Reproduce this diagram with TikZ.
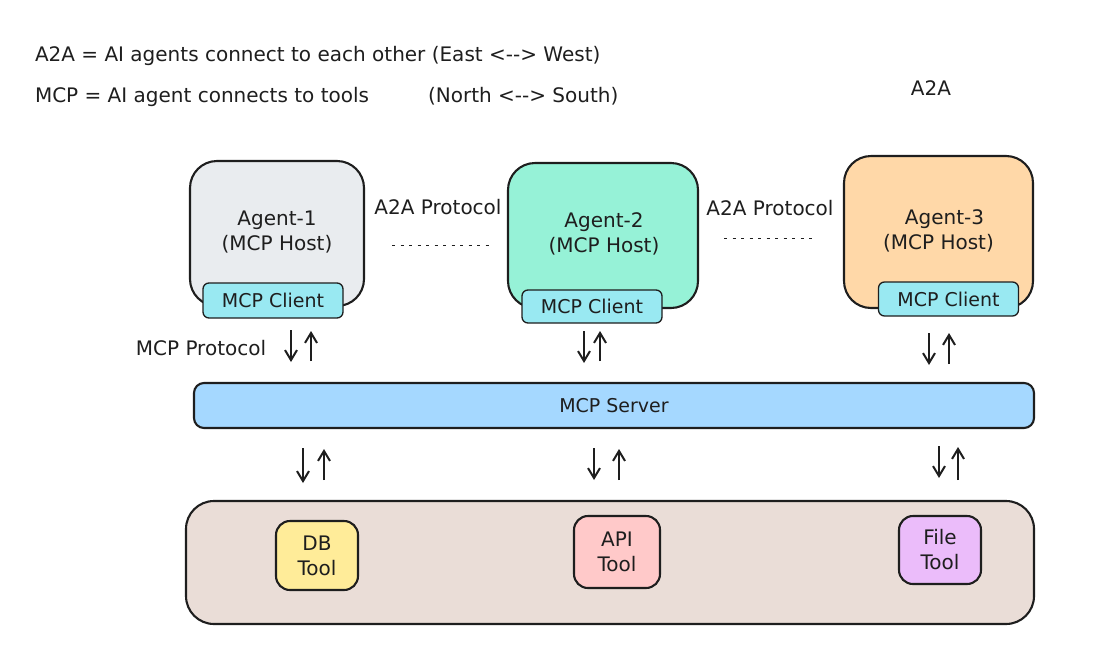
\documentclass[tikz,border=0pt]{standalone}
\usepackage{fontspec}
\setmainfont{DejaVu Sans}
\usetikzlibrary{arrows.meta}
\definecolor{ink}{HTML}{1E1E1E}
\definecolor{agentgray}{HTML}{E9ECEF}
\definecolor{agentgreen}{HTML}{96F2D7}
\definecolor{agentorange}{HTML}{FFD8A8}
\definecolor{clientcyan}{HTML}{99E9F2}
\definecolor{serverblue}{HTML}{A5D8FF}
\definecolor{panelbrown}{HTML}{EADDD7}
\definecolor{toolyellow}{HTML}{FFEC99}
\definecolor{toolpink}{HTML}{FFC9C9}
\definecolor{toolpurple}{HTML}{EBBCFA}
\newcommand{\labelfont}{\fontsize{20}{25}\selectfont}
\newcommand{\boxfont}{\fontsize{19}{25}\selectfont}
\tikzset{
  box/.style={draw=ink,line width=2.1pt,inner sep=0pt,outer sep=0pt},
  agentbox/.style={box,rounded corners=27pt},
  clientbox/.style={box,line width=1.3pt,rounded corners=6pt,fill=clientcyan,minimum width=140pt,minimum height=35pt,text=ink,font=\boxfont},
  toolbox/.style={box,rounded corners=14pt,align=center,text=ink,font=\labelfont},
  lbl/.style={text=ink,inner sep=0pt,outer sep=0pt,align=center,font=\labelfont},
  flow/.style={draw=ink,line width=2.1pt,-{Straight Barb[length=10pt,width=12pt,line width=2pt]}},
  dotline/.style={draw=ink,line width=1pt,dash pattern=on 3pt off 5.5pt},
}
\begin{document}
\begin{tikzpicture}[x=1pt,y=-1pt]
\useasboundingbox (0,0) rectangle (1097,667);
% notes
\node[lbl,anchor=west] (note1) at (35,56) {A2A = AI agents connect to each other (East <-{}-> West)};
\node[lbl,anchor=west] (note2) at (35,97) {MCP = AI agent connects to tools\hspace{59pt}(North <-{}-> South)};
\node[lbl] (title) at (931,88) {A2A};
% agents
\node[agentbox,fill=agentgray,minimum width=174pt,minimum height=145pt] (agent1) at (277,233.5) {};
\node[agentbox,fill=agentgreen,minimum width=190pt,minimum height=145pt] (agent2) at (603,235.5) {};
\node[agentbox,fill=agentorange,minimum width=189pt,minimum height=152pt] (agent3) at (938.5,232) {};
\node[lbl] (agent1label) at (277,232) {Agent-1\\(MCP Host)};
\node[lbl] (agent2label) at (604,234) {Agent-2\\(MCP Host)};
\node[lbl] (agent3label) at (938.5,231) {\hspace*{12pt}Agent-3\\(MCP Host)};
% clients
\node[clientbox] (client1) at (273,300.5) {MCP Client};
\node[clientbox,minimum height=33pt] (client2) at (592,306.5) {MCP Client};
\node[clientbox,minimum height=34pt] (client3) at (948.5,299) {MCP Client};
% server and tool panel
\node[box,rounded corners=10pt,fill=serverblue,minimum width=840pt,minimum height=45pt,text=ink,font=\boxfont] (server) at (614,405.5) {MCP Server};
\node[box,rounded corners=28pt,fill=panelbrown,minimum width=848pt,minimum height=123pt] (panel) at (610,562.5) {};
\node[toolbox,fill=toolyellow,minimum width=82pt,minimum height=69pt] (db) at (317,555.5) {DB\\Tool};
\node[toolbox,fill=toolpink,minimum width=86pt,minimum height=72pt] (api) at (617,552) {API\\Tool};
\node[toolbox,fill=toolpurple,minimum width=82pt,minimum height=68pt] (file) at (940,550) {File\\Tool};
% edge labels
\node[lbl] (proto1) at (438,207) {A2A Protocol};
\node[lbl] (proto2) at (770,208) {A2A Protocol};
\node[lbl] (proto3) at (201,348) {MCP Protocol};
% dotted links
\coordinate (d1a) at (392,245); \coordinate (d1b) at (490,245);
\coordinate (d2a) at (724,238); \coordinate (d2b) at (812,238);
\draw[dotline] (d1a) -- (d1b);
\draw[dotline] (d2a) -- (d2b);
% arrows client <-> server
\coordinate (a1) at (291,330); \coordinate (a2) at (291,362);
\coordinate (a3) at (311,361); \coordinate (a4) at (311,331);
\coordinate (a5) at (584,331); \coordinate (a6) at (584,363);
\coordinate (a7) at (600,361); \coordinate (a8) at (600,331);
\coordinate (a9) at (929,333); \coordinate (a10) at (929,365);
\coordinate (a11) at (949,364); \coordinate (a12) at (949,333);
\draw[flow] (a1) -- (a2); \draw[flow] (a3) -- (a4);
\draw[flow] (a5) -- (a6); \draw[flow] (a7) -- (a8);
\draw[flow] (a9) -- (a10); \draw[flow] (a11) -- (a12);
% arrows server <-> tools
\coordinate (b1) at (303,448); \coordinate (b2) at (303,483);
\coordinate (b3) at (324,480); \coordinate (b4) at (324,449);
\coordinate (b5) at (594,448); \coordinate (b6) at (594,480);
\coordinate (b7) at (619,480); \coordinate (b8) at (619,449);
\coordinate (b9) at (939,446); \coordinate (b10) at (939,478);
\coordinate (b11) at (958,480); \coordinate (b12) at (958,447);
\draw[flow] (b1) -- (b2); \draw[flow] (b3) -- (b4);
\draw[flow] (b5) -- (b6); \draw[flow] (b7) -- (b8);
\draw[flow] (b9) -- (b10); \draw[flow] (b11) -- (b12);
\end{tikzpicture}
\end{document}
